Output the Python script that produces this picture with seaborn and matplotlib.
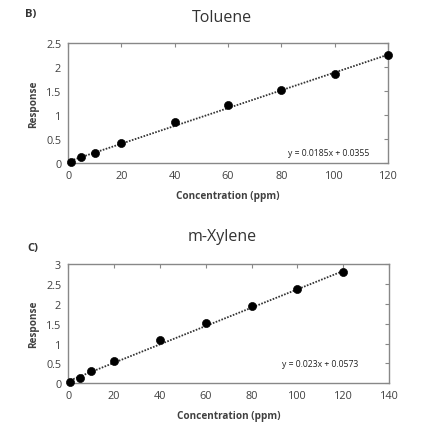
import matplotlib
matplotlib.use("Agg")
import matplotlib.pyplot as plt
import seaborn as sns
import numpy as np
import pandas as pd

conc = [1, 5, 10, 20, 40, 60, 80, 100, 120]
toluene = [0.02, 0.12, 0.22, 0.42, 0.85, 1.21, 1.52, 1.86, 2.24]
xylene = [0.04, 0.14, 0.30, 0.57, 1.09, 1.52, 1.94, 2.37, 2.80]
tol_fit = (0.0185, 0.0355)
xyl_fit = (0.023, 0.0573)
tol_xticks = [0, 20, 40, 60, 80, 100, 120]
tol_yticks = [0, 0.5, 1, 1.5, 2, 2.5]
xyl_xticks = [0, 20, 40, 60, 80, 100, 120, 140]
xyl_yticks = [0, 0.5, 1, 1.5, 2, 2.5, 3]

sns.set_theme(style="white")
plt.rcParams['font.family'] = ['Open Sans', 'DejaVu Sans']

fig = plt.figure(figsize=(4.31, 4.31), dpi=100)
txt = "#404040"

def panel(rect, y, fit, xticks, yticks, title, letter, letter_xy, title_y, eq_xy):
    ax = fig.add_axes(rect)
    df = pd.DataFrame({"x": conc, "y": y})
    df["fit"] = fit[0] * df["x"] + fit[1]
    sns.lineplot(data=df, x="x", y="fit", ax=ax, color="#333333", linestyle=(0, (0.9, 0.8)), lw=1.3)
    sns.scatterplot(data=df, x="x", y="y", ax=ax, color="black", s=34, edgecolor="black", zorder=3,
                    clip_on=False)
    ax.set_xlim(xticks[0], xticks[-1])
    ax.set_ylim(yticks[0], yticks[-1])
    ax.set_xticks(xticks)
    ax.set_yticks(yticks)
    ax.set_xticklabels([str(t) for t in xticks])
    ax.set_yticklabels([("%g" % t) for t in yticks])
    ax.tick_params(direction="in", length=3, width=0.8, colors="#888888", labelcolor=txt,
                   labelsize=7.8, top=True, right=True, pad=5)
    for s in ax.spines.values():
        s.set_color("#888888")
        s.set_linewidth(1.0)
    ax.set_xlabel("Concentration (ppm)", fontsize=7.2, fontweight="bold", color=txt, labelpad=6.5)
    ax.set_ylabel("Response", fontsize=7.2, fontweight="bold", color=txt, labelpad=5)
    fig.text(0.515, title_y, title, ha="center", va="center", fontsize=11.5, color="#333333")
    fig.text(letter_xy[0], letter_xy[1], letter, ha="center", va="center", fontsize=8, fontweight="bold", color="#333333")
    ax.text(eq_xy[0], eq_xy[1], "y = %gx + %g" % fit, transform=ax.transAxes,
            ha="center", va="center", fontsize=6.2, color="#222222")
    return ax

panel([0.158, 0.619, 0.742, 0.279], toluene, tol_fit, tol_xticks, tol_yticks,
      "Toluene", "B)", (0.072, 0.966), 0.958, (0.815, 0.085))
panel([0.158, 0.108, 0.745, 0.278], xylene, xyl_fit, xyl_xticks, xyl_yticks,
      "m-Xylene", "C)", (0.077, 0.424), 0.449, (0.785, 0.165))

fig.savefig("out.png", dpi=100)
